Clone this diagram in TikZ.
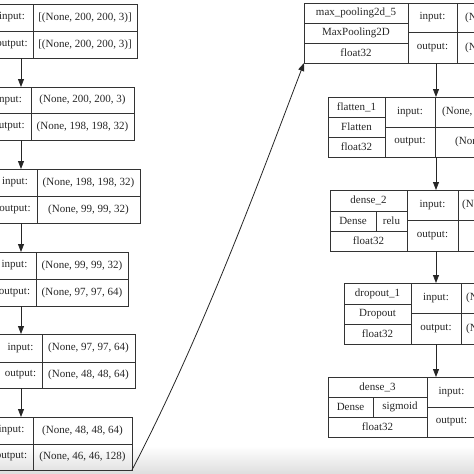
\documentclass[tikz,border=0pt]{standalone}
\usepackage{fontspec}
\setmainfont{Liberation Serif}
\usetikzlibrary{arrows.meta}
\tikzset{
  cellbox/.style={draw=black!80, line width=0.8pt, inner sep=0pt, outer sep=0pt,
    text=black!85, font=\fontsize{11}{13}\selectfont},
  valtext/.style={inner sep=0pt, anchor=west, text=black!85, font=\fontsize{11}{13}\selectfont},
  arr/.style={draw=black!85, line width=0.8pt, -{Triangle[length=8pt,width=6pt]}},
}
\newcommand\cellat[6]{%
  \pgfmathsetmacro\cw{#4-#2}\pgfmathsetmacro\ch{#5-#3}%
  \node[cellbox, minimum width=\cw pt, minimum height=\ch pt] (#1) at ({(#2+#4)/2},{(#3+#5)/2}) {#6};}
\begin{document}
\begin{tikzpicture}[x=1pt,y=-1pt]
\useasboundingbox (0,0) rectangle (474,474);
\clip (0,0) rectangle (474,474);
\shade[top color=white, bottom color=black!13] (0,446) rectangle (474,474);

% ---------- left column ----------
\cellat{l1i}{-9}{4}{33}{31}{input:}
\cellat{l1o}{-9}{31}{33}{58}{output:}
\cellat{v1i}{33}{4}{137}{31}{[(None, 200, 200, 3)]}
\cellat{v1o}{33}{31}{137}{58}{[(None, 200, 200, 3)]}

\cellat{l2i}{-13}{87}{31}{113}{input:}
\cellat{l2o}{-13}{113}{31}{140}{output:}
\cellat{v2i}{31}{87}{134}{113}{(None, 200, 200, 3)}
\cellat{v2o}{31}{113}{134}{140}{(None, 198, 198, 32)}

\cellat{l3i}{-7}{169}{37}{196}{input:}
\cellat{l3o}{-7}{196}{37}{223}{output:}
\cellat{v3i}{37}{169}{140}{196}{(None, 198, 198, 32)}
\cellat{v3o}{37}{196}{140}{223}{(None, 99, 99, 32)}

\cellat{l4i}{-7}{252}{36}{279}{input:}
\cellat{l4o}{-7}{279}{36}{306}{output:}
\cellat{v4i}{36}{252}{128}{279}{(None, 99, 99, 32)}
\cellat{v4o}{36}{279}{128}{306}{(None, 97, 97, 64)}

\cellat{l5i}{-1}{334}{42}{362}{input:}
\cellat{l5o}{-1}{362}{42}{388}{output:}
\cellat{v5i}{42}{334}{135}{362}{(None, 97, 97, 64)}
\cellat{v5o}{42}{362}{135}{388}{(None, 48, 48, 64)}

\cellat{l6i}{-10}{417}{33}{444}{input:}
\cellat{l6o}{-10}{444}{33}{470}{output:}
\cellat{v6i}{33}{417}{132}{444}{(None, 48, 48, 64)}
\cellat{v6o}{33}{444}{132}{470}{(None, 46, 46, 128)}

\coordinate (b1s) at (21,58);  \coordinate (b2n) at (21,87);
\coordinate (b2s) at (21,140); \coordinate (b3n) at (21,169);
\coordinate (b3s) at (21,223); \coordinate (b4n) at (21,252);
\coordinate (b4s) at (21,306); \coordinate (b5n) at (21,334);
\coordinate (b5s) at (21,388); \coordinate (b6n) at (21,417);
\draw[arr] (b1s) -- (b2n);
\draw[arr] (b2s) -- (b3n);
\draw[arr] (b3s) -- (b4n);
\draw[arr] (b4s) -- (b5n);
\draw[arr] (b5s) -- (b6n);

% ---------- right column ----------
% max_pooling2d_5
\cellat{mpn}{304}{3}{408}{23}{max\_pooling2d\_5}
\cellat{mpc}{304}{23}{408}{43}{MaxPooling2D}
\cellat{mpd}{304}{43}{408}{63}{float32}
\cellat{mpi}{408}{3}{457}{32}{input:}
\cellat{mpo}{408}{32}{457}{63}{output:}
\cellat{mpvi}{457}{3}{560}{32}{}
\cellat{mpvo}{457}{32}{560}{63}{}
\node[valtext] (mpvit) at (465,17.5) {(None, 46, 46, 128)};
\node[valtext] (mpvot) at (465,47.5) {(None, 23, 23, 128)};

% flatten_1
\cellat{fln}{328}{97}{385}{117}{flatten\_1}
\cellat{flc}{328}{117}{385}{137}{Flatten}
\cellat{fld}{328}{137}{385}{157}{float32}
\cellat{fli}{385}{97}{435}{127}{input:}
\cellat{flo}{385}{127}{435}{157}{output:}
\cellat{flvi}{435}{97}{560}{127}{}
\cellat{flvo}{435}{127}{560}{157}{}
\node[valtext] (flvit) at (442,112) {(None, 23, 23, 128)};
\node[valtext] (flvot) at (455,142) {(None, 67712)};

% dense_2
\cellat{d2n}{330}{190}{407}{211}{dense\_2}
\cellat{d2c}{330}{211}{376}{231}{Dense}
\cellat{d2a}{376}{211}{407}{231}{relu}
\cellat{d2d}{330}{231}{407}{251}{float32}
\cellat{d2i}{407}{190}{458}{220}{input:}
\cellat{d2o}{407}{220}{458}{251}{output:}
\cellat{d2vi}{458}{190}{560}{220}{}
\cellat{d2vo}{458}{220}{560}{251}{}
\node[valtext] (d2vit) at (462,205) {(None, 67712)};

% dropout_1
\cellat{don}{344}{283}{411}{304}{dropout\_1}
\cellat{doc}{344}{304}{411}{324}{Dropout}
\cellat{dod}{344}{324}{411}{344}{float32}
\cellat{doi}{411}{283}{461}{313}{input:}
\cellat{doo}{411}{313}{461}{344}{output:}
\cellat{dovi}{461}{283}{560}{313}{}
\cellat{dovo}{461}{313}{560}{344}{}
\node[valtext] (dovit) at (466,298) {(None, 64)};
\node[valtext] (dovot) at (466,328.5) {(None, 64)};

% dense_3
\cellat{d3n}{328}{377}{427}{397}{dense\_3}
\cellat{d3c}{328}{397}{373}{417}{Dense}
\cellat{d3a}{373}{397}{427}{417}{sigmoid}
\cellat{d3d}{328}{417}{427}{437}{float32}
\cellat{d3i}{427}{377}{476}{407}{input:}
\cellat{d3o}{427}{407}{476}{437}{output:}

\coordinate (r1s) at (436,63);  \coordinate (r2n) at (436,97);
\coordinate (r2s) at (436,157); \coordinate (r3n) at (436,190);
\coordinate (r3s) at (436,251); \coordinate (r4n) at (436,283);
\coordinate (r4s) at (436,344); \coordinate (r5n) at (436,377);
\draw[arr] (r1s) -- (r2n);
\draw[arr] (r2s) -- (r3n);
\draw[arr] (r3s) -- (r4n);
\draw[arr] (r4s) -- (r5n);

% long connector
\draw[arr] (v6o.south east) .. controls (205,330) and (265,165) .. (mpd.south west);
\end{tikzpicture}
\end{document}
